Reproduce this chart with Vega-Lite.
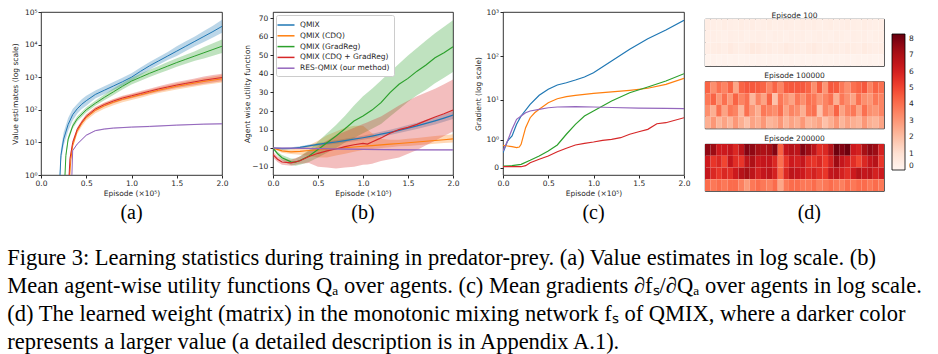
{
"$schema": "https://vega.github.io/schema/vega-lite/v6.json",
"background": "white",
"padding": {"left": 7, "top": 7, "right": 0, "bottom": 0},
"config": {
  "view": {"stroke": "black", "strokeWidth": 0.8},
  "axis": {"labelFont": "DejaVu Sans", "labelFontSize": 7.5, "titleFont": "DejaVu Sans", "titleFontSize": 7.5, "titleFontWeight": "normal", "labelColor": "#262626", "titleColor": "#262626", "tickColor": "#262626", "tickSize": 3, "grid": false, "domain": false, "labelOverlap": false, "labelFlush": false}
},
"title": {"text": ["Figure 3: Learning statistics during training in predator-prey. (a) Value estimates in log scale. (b)", "Mean agent-wise utility functions Qₐ over agents. (c) Mean gradients ∂fₛ/∂Qₐ over agents in log scale.", "(d) The learned weight (matrix) in the monotonic mixing network fₛ of QMIX, where a darker color", "represents a larger value (a detailed description is in Appendix A.1)."], "orient": "bottom", "anchor": "start", "frame": "bounds", "font": "Liberation Serif", "fontSize": 22.5, "fontWeight": "normal", "lineHeight": 28, "offset": 24, "dx": -4, "color": "black"},
"datasets": {
  "a": [
    {"s":"QMIX","x":0.205,"y":0.5,"lo":0.3,"hi":0.8},{"s":"QMIX","x":0.22,"y":3.98,"lo":2.5,"hi":6.3},{"s":"QMIX","x":0.25,"y":12.6,"lo":8,"hi":20},{"s":"QMIX","x":0.3,"y":35.5,"lo":22.4,"hi":56},{"s":"QMIX","x":0.35,"y":70.8,"lo":47,"hi":106},{"s":"QMIX","x":0.4,"y":107,"lo":76,"hi":151},{"s":"QMIX","x":0.45,"y":148,"lo":105,"hi":209},{"s":"QMIX","x":0.5,"y":190,"lo":134,"hi":268},{"s":"QMIX","x":0.6,"y":295,"lo":224,"hi":389},{"s":"QMIX","x":0.7,"y":398,"lo":302,"hi":525},{"s":"QMIX","x":0.8,"y":537,"lo":407,"hi":708},{"s":"QMIX","x":0.9,"y":724,"lo":549,"hi":954},{"s":"QMIX","x":1.0,"y":1000,"lo":759,"hi":1318},{"s":"QMIX","x":1.1,"y":1514,"lo":1149,"hi":1995},{"s":"QMIX","x":1.2,"y":2239,"lo":1699,"hi":2951},{"s":"QMIX","x":1.3,"y":3162,"lo":2399,"hi":4168},{"s":"QMIX","x":1.4,"y":4467,"lo":3389,"hi":5888},{"s":"QMIX","x":1.5,"y":6310,"lo":4466,"hi":8916},{"s":"QMIX","x":1.6,"y":8913,"lo":6308,"hi":12594},{"s":"QMIX","x":1.7,"y":12589,"lo":8909,"hi":17788},{"s":"QMIX","x":1.8,"y":17783,"lo":12016,"hi":26319},{"s":"QMIX","x":1.9,"y":25119,"lo":16591,"hi":38030},{"s":"QMIX","x":2.0,"y":36308,"lo":22907,"hi":57548},
    {"s":"QMIX (CDQ)","x":0.31,"y":0.5,"lo":0.4,"hi":0.6},{"s":"QMIX (CDQ)","x":0.33,"y":3.0,"lo":2.5,"hi":3.7},{"s":"QMIX (CDQ)","x":0.35,"y":8,"lo":6.6,"hi":9.8},{"s":"QMIX (CDQ)","x":0.4,"y":22,"lo":18,"hi":27},{"s":"QMIX (CDQ)","x":0.45,"y":38,"lo":31,"hi":46},{"s":"QMIX (CDQ)","x":0.5,"y":57,"lo":47,"hi":70},{"s":"QMIX (CDQ)","x":0.6,"y":96,"lo":79,"hi":117},{"s":"QMIX (CDQ)","x":0.7,"y":132,"lo":108,"hi":161},{"s":"QMIX (CDQ)","x":0.8,"y":170,"lo":139,"hi":207},{"s":"QMIX (CDQ)","x":0.9,"y":209,"lo":171,"hi":255},{"s":"QMIX (CDQ)","x":1.0,"y":245,"lo":201,"hi":299},{"s":"QMIX (CDQ)","x":1.1,"y":288,"lo":236,"hi":351},{"s":"QMIX (CDQ)","x":1.2,"y":339,"lo":278,"hi":414},{"s":"QMIX (CDQ)","x":1.3,"y":398,"lo":326,"hi":486},{"s":"QMIX (CDQ)","x":1.4,"y":457,"lo":370,"hi":565},{"s":"QMIX (CDQ)","x":1.5,"y":525,"lo":420,"hi":656},{"s":"QMIX (CDQ)","x":1.6,"y":589,"lo":467,"hi":742},{"s":"QMIX (CDQ)","x":1.7,"y":661,"lo":521,"hi":839},{"s":"QMIX (CDQ)","x":1.8,"y":741,"lo":579,"hi":948},{"s":"QMIX (CDQ)","x":1.9,"y":813,"lo":630,"hi":1049},{"s":"QMIX (CDQ)","x":2.0,"y":891,"lo":685,"hi":1158},
    {"s":"QMIX (GradReg)","x":0.26,"y":0.5,"lo":0.4,"hi":0.6},{"s":"QMIX (GradReg)","x":0.275,"y":3.98,"lo":3.3,"hi":4.8},{"s":"QMIX (GradReg)","x":0.3,"y":12.6,"lo":10.5,"hi":15.1},{"s":"QMIX (GradReg)","x":0.35,"y":31.6,"lo":26.3,"hi":37.9},{"s":"QMIX (GradReg)","x":0.4,"y":52.5,"lo":43.8,"hi":63},{"s":"QMIX (GradReg)","x":0.5,"y":100,"lo":83,"hi":120},{"s":"QMIX (GradReg)","x":0.6,"y":158,"lo":132,"hi":190},{"s":"QMIX (GradReg)","x":0.7,"y":240,"lo":195,"hi":295},{"s":"QMIX (GradReg)","x":0.8,"y":355,"lo":282,"hi":447},{"s":"QMIX (GradReg)","x":0.9,"y":525,"lo":417,"hi":662},{"s":"QMIX (GradReg)","x":1.0,"y":759,"lo":602,"hi":956},{"s":"QMIX (GradReg)","x":1.1,"y":1000,"lo":781,"hi":1280},{"s":"QMIX (GradReg)","x":1.2,"y":1318,"lo":1019,"hi":1705},{"s":"QMIX (GradReg)","x":1.3,"y":1698,"lo":1297,"hi":2223},{"s":"QMIX (GradReg)","x":1.4,"y":2188,"lo":1641,"hi":2917},{"s":"QMIX (GradReg)","x":1.5,"y":2818,"lo":2075,"hi":3827},{"s":"QMIX (GradReg)","x":1.6,"y":3548,"lo":2568,"hi":4902},{"s":"QMIX (GradReg)","x":1.7,"y":4467,"lo":3172,"hi":6290},{"s":"QMIX (GradReg)","x":1.8,"y":5623,"lo":3750,"hi":8430},{"s":"QMIX (GradReg)","x":1.9,"y":7079,"lo":4550,"hi":11000},{"s":"QMIX (GradReg)","x":2.0,"y":8913,"lo":5570,"hi":14260},
    {"s":"QMIX (CDQ + GradReg)","x":0.305,"y":0.5,"lo":0.43,"hi":0.58},{"s":"QMIX (CDQ + GradReg)","x":0.32,"y":3.16,"lo":2.75,"hi":3.63},{"s":"QMIX (CDQ + GradReg)","x":0.35,"y":10,"lo":8.7,"hi":11.5},{"s":"QMIX (CDQ + GradReg)","x":0.4,"y":25.1,"lo":21.8,"hi":28.9},{"s":"QMIX (CDQ + GradReg)","x":0.45,"y":41.7,"lo":36.3,"hi":48},{"s":"QMIX (CDQ + GradReg)","x":0.5,"y":63.1,"lo":54.9,"hi":72.6},{"s":"QMIX (CDQ + GradReg)","x":0.6,"y":105,"lo":91,"hi":121},{"s":"QMIX (CDQ + GradReg)","x":0.7,"y":145,"lo":126,"hi":167},{"s":"QMIX (CDQ + GradReg)","x":0.8,"y":186,"lo":160,"hi":216},{"s":"QMIX (CDQ + GradReg)","x":0.9,"y":229,"lo":196,"hi":268},{"s":"QMIX (CDQ + GradReg)","x":1.0,"y":269,"lo":228,"hi":317},{"s":"QMIX (CDQ + GradReg)","x":1.1,"y":316,"lo":266,"hi":376},{"s":"QMIX (CDQ + GradReg)","x":1.2,"y":372,"lo":310,"hi":446},{"s":"QMIX (CDQ + GradReg)","x":1.3,"y":437,"lo":361,"hi":529},{"s":"QMIX (CDQ + GradReg)","x":1.4,"y":501,"lo":409,"hi":614},{"s":"QMIX (CDQ + GradReg)","x":1.5,"y":575,"lo":464,"hi":713},{"s":"QMIX (CDQ + GradReg)","x":1.6,"y":646,"lo":514,"hi":811},{"s":"QMIX (CDQ + GradReg)","x":1.7,"y":724,"lo":570,"hi":919},{"s":"QMIX (CDQ + GradReg)","x":1.8,"y":813,"lo":633,"hi":1044},{"s":"QMIX (CDQ + GradReg)","x":1.9,"y":891,"lo":686,"hi":1158},{"s":"QMIX (CDQ + GradReg)","x":2.0,"y":977,"lo":745,"hi":1280},
    {"s":"RES-QMIX (our method)","x":0.338,"y":0.5,"lo":0.48,"hi":0.52},{"s":"RES-QMIX (our method)","x":0.35,"y":5.6,"lo":5.3,"hi":5.9},{"s":"RES-QMIX (our method)","x":0.4,"y":8.9,"lo":8.5,"hi":9.3},{"s":"RES-QMIX (our method)","x":0.5,"y":16.6,"lo":15.8,"hi":17.4},{"s":"RES-QMIX (our method)","x":0.6,"y":22.9,"lo":21.8,"hi":24},{"s":"RES-QMIX (our method)","x":0.7,"y":25.7,"lo":24.5,"hi":27},{"s":"RES-QMIX (our method)","x":0.8,"y":27.5,"lo":26.2,"hi":28.9},{"s":"RES-QMIX (our method)","x":1.0,"y":29.5,"lo":28.1,"hi":31},{"s":"RES-QMIX (our method)","x":1.2,"y":30.9,"lo":29.4,"hi":32.4},{"s":"RES-QMIX (our method)","x":1.5,"y":33.9,"lo":32.3,"hi":35.6},{"s":"RES-QMIX (our method)","x":1.8,"y":36.3,"lo":34.6,"hi":38.1},{"s":"RES-QMIX (our method)","x":2.0,"y":37.2,"lo":35.4,"hi":39.1}
  ],
  "b": [
    {"s":"QMIX","x":0,"y":0,"lo":-0.3,"hi":0.3},{"s":"QMIX","x":0.1,"y":-0.3,"lo":-0.8,"hi":0.2},{"s":"QMIX","x":0.2,"y":-0.2,"lo":-0.8,"hi":0.4},{"s":"QMIX","x":0.3,"y":0.4,"lo":-0.2,"hi":1.0},{"s":"QMIX","x":0.4,"y":1.2,"lo":0.5,"hi":1.9},{"s":"QMIX","x":0.5,"y":2.0,"lo":1.2,"hi":2.8},{"s":"QMIX","x":0.6,"y":2.7,"lo":1.8,"hi":3.6},{"s":"QMIX","x":0.7,"y":3.3,"lo":2.3,"hi":4.3},{"s":"QMIX","x":0.8,"y":4.0,"lo":3.0,"hi":5.0},{"s":"QMIX","x":0.9,"y":4.8,"lo":3.7,"hi":5.9},{"s":"QMIX","x":1.0,"y":5.6,"lo":4.5,"hi":6.7},{"s":"QMIX","x":1.1,"y":6.5,"lo":5.3,"hi":7.7},{"s":"QMIX","x":1.2,"y":7.5,"lo":6.2,"hi":8.8},{"s":"QMIX","x":1.3,"y":8.5,"lo":7.1,"hi":9.9},{"s":"QMIX","x":1.4,"y":9.6,"lo":8.1,"hi":11.1},{"s":"QMIX","x":1.5,"y":10.8,"lo":9.2,"hi":12.4},{"s":"QMIX","x":1.6,"y":12.0,"lo":10.3,"hi":13.7},{"s":"QMIX","x":1.7,"y":13.3,"lo":11.5,"hi":15.1},{"s":"QMIX","x":1.8,"y":14.7,"lo":12.8,"hi":16.6},{"s":"QMIX","x":1.9,"y":16.2,"lo":14.2,"hi":18.2},{"s":"QMIX","x":2.0,"y":17.8,"lo":15.7,"hi":19.9},
    {"s":"QMIX (CDQ)","x":0,"y":0,"lo":-0.3,"hi":0.3},{"s":"QMIX (CDQ)","x":0.1,"y":-1.5,"lo":-2.5,"hi":-0.5},{"s":"QMIX (CDQ)","x":0.2,"y":-2.0,"lo":-3.2,"hi":-0.8},{"s":"QMIX (CDQ)","x":0.3,"y":-1.8,"lo":-3.6,"hi":0},{"s":"QMIX (CDQ)","x":0.4,"y":-1.3,"lo":-4.2,"hi":1.5},{"s":"QMIX (CDQ)","x":0.5,"y":-0.9,"lo":-5,"hi":4},{"s":"QMIX (CDQ)","x":0.6,"y":-0.5,"lo":-5,"hi":7},{"s":"QMIX (CDQ)","x":0.7,"y":-0.2,"lo":-4,"hi":9},{"s":"QMIX (CDQ)","x":0.8,"y":0.2,"lo":-3,"hi":11},{"s":"QMIX (CDQ)","x":0.9,"y":0.6,"lo":-2,"hi":12},{"s":"QMIX (CDQ)","x":1.0,"y":1.0,"lo":-1,"hi":12},{"s":"QMIX (CDQ)","x":1.1,"y":1.3,"lo":-0.5,"hi":8},{"s":"QMIX (CDQ)","x":1.2,"y":1.7,"lo":0,"hi":5},{"s":"QMIX (CDQ)","x":1.3,"y":2.1,"lo":0.5,"hi":4.5},{"s":"QMIX (CDQ)","x":1.4,"y":2.5,"lo":1,"hi":4.5},{"s":"QMIX (CDQ)","x":1.5,"y":2.9,"lo":1.2,"hi":5},{"s":"QMIX (CDQ)","x":1.6,"y":3.3,"lo":1.5,"hi":5.5},{"s":"QMIX (CDQ)","x":1.7,"y":3.7,"lo":1.9,"hi":6},{"s":"QMIX (CDQ)","x":1.8,"y":4.1,"lo":2.3,"hi":6.5},{"s":"QMIX (CDQ)","x":1.9,"y":4.5,"lo":2.7,"hi":7},{"s":"QMIX (CDQ)","x":2.0,"y":5.0,"lo":3.0,"hi":7.5},
    {"s":"QMIX (GradReg)","x":0,"y":0,"lo":-0.3,"hi":0.3},{"s":"QMIX (GradReg)","x":0.05,"y":-3,"lo":-4,"hi":-2},{"s":"QMIX (GradReg)","x":0.1,"y":-5.2,"lo":-6.7,"hi":-3.7},{"s":"QMIX (GradReg)","x":0.2,"y":-7.4,"lo":-9.2,"hi":-5.6},{"s":"QMIX (GradReg)","x":0.25,"y":-7.6,"lo":-9.5,"hi":-5.8},{"s":"QMIX (GradReg)","x":0.3,"y":-6.7,"lo":-9,"hi":-4.4},{"s":"QMIX (GradReg)","x":0.4,"y":-4.3,"lo":-7.5,"hi":-1},{"s":"QMIX (GradReg)","x":0.5,"y":-0.7,"lo":-5,"hi":3.5},{"s":"QMIX (GradReg)","x":0.6,"y":2.9,"lo":-2.5,"hi":8},{"s":"QMIX (GradReg)","x":0.7,"y":6.5,"lo":0,"hi":12.5},{"s":"QMIX (GradReg)","x":0.8,"y":10.4,"lo":3,"hi":17.5},{"s":"QMIX (GradReg)","x":0.9,"y":14.6,"lo":5.5,"hi":23},{"s":"QMIX (GradReg)","x":1.0,"y":17.3,"lo":8,"hi":28},{"s":"QMIX (GradReg)","x":1.1,"y":20.5,"lo":10.5,"hi":32},{"s":"QMIX (GradReg)","x":1.2,"y":24.5,"lo":13,"hi":36.5},{"s":"QMIX (GradReg)","x":1.3,"y":29.9,"lo":17,"hi":41},{"s":"QMIX (GradReg)","x":1.4,"y":34.4,"lo":21,"hi":45.5},{"s":"QMIX (GradReg)","x":1.5,"y":37.6,"lo":25,"hi":50},{"s":"QMIX (GradReg)","x":1.6,"y":41.5,"lo":28.5,"hi":54},{"s":"QMIX (GradReg)","x":1.7,"y":44.8,"lo":31.5,"hi":58},{"s":"QMIX (GradReg)","x":1.8,"y":48.7,"lo":35,"hi":62},{"s":"QMIX (GradReg)","x":1.9,"y":51.4,"lo":38,"hi":65.5},{"s":"QMIX (GradReg)","x":2.0,"y":54.7,"lo":41,"hi":69},
    {"s":"QMIX (CDQ + GradReg)","x":0,"y":-3.5,"lo":-5,"hi":-2},{"s":"QMIX (CDQ + GradReg)","x":0.05,"y":-6,"lo":-7.5,"hi":-4.5},{"s":"QMIX (CDQ + GradReg)","x":0.1,"y":-7.5,"lo":-9,"hi":-6},{"s":"QMIX (CDQ + GradReg)","x":0.2,"y":-8,"lo":-9.5,"hi":-6.3},{"s":"QMIX (CDQ + GradReg)","x":0.3,"y":-6.8,"lo":-8.5,"hi":-4.5},{"s":"QMIX (CDQ + GradReg)","x":0.4,"y":-4.5,"lo":-8,"hi":-1.5},{"s":"QMIX (CDQ + GradReg)","x":0.5,"y":-2.8,"lo":-10,"hi":1},{"s":"QMIX (CDQ + GradReg)","x":0.6,"y":-1.5,"lo":-10.5,"hi":4},{"s":"QMIX (CDQ + GradReg)","x":0.7,"y":-0.5,"lo":-11,"hi":7},{"s":"QMIX (CDQ + GradReg)","x":0.8,"y":0.8,"lo":-10.5,"hi":9},{"s":"QMIX (CDQ + GradReg)","x":0.9,"y":1.8,"lo":-10,"hi":11},{"s":"QMIX (CDQ + GradReg)","x":1.0,"y":2.5,"lo":-9,"hi":13},{"s":"QMIX (CDQ + GradReg)","x":1.05,"y":2.2,"lo":-8.8,"hi":14},{"s":"QMIX (CDQ + GradReg)","x":1.1,"y":3.3,"lo":-8.5,"hi":15},{"s":"QMIX (CDQ + GradReg)","x":1.2,"y":5.5,"lo":-7,"hi":17},{"s":"QMIX (CDQ + GradReg)","x":1.3,"y":8.0,"lo":-6,"hi":20},{"s":"QMIX (CDQ + GradReg)","x":1.4,"y":10.0,"lo":-5,"hi":23},{"s":"QMIX (CDQ + GradReg)","x":1.5,"y":11.2,"lo":-3,"hi":25.5},{"s":"QMIX (CDQ + GradReg)","x":1.6,"y":12.8,"lo":-1,"hi":28},{"s":"QMIX (CDQ + GradReg)","x":1.7,"y":14.8,"lo":1.5,"hi":30},{"s":"QMIX (CDQ + GradReg)","x":1.8,"y":16.8,"lo":4,"hi":32},{"s":"QMIX (CDQ + GradReg)","x":1.9,"y":18.5,"lo":6.5,"hi":34.5},{"s":"QMIX (CDQ + GradReg)","x":2.0,"y":20.5,"lo":9,"hi":37},
    {"s":"RES-QMIX (our method)","x":0,"y":0,"lo":-0.3,"hi":0.3},{"s":"RES-QMIX (our method)","x":0.2,"y":0,"lo":-0.3,"hi":0.3},{"s":"RES-QMIX (our method)","x":0.5,"y":-0.3,"lo":-0.6,"hi":0},{"s":"RES-QMIX (our method)","x":1.0,"y":-0.7,"lo":-1.0,"hi":-0.4},{"s":"RES-QMIX (our method)","x":1.5,"y":-0.9,"lo":-1.2,"hi":-0.6},{"s":"RES-QMIX (our method)","x":2.0,"y":-1.0,"lo":-1.3,"hi":-0.7}
  ],
  "c": [
    {"s":"QMIX","x":0,"y":0.354},{"s":"QMIX","x":0.05,"y":0.903},{"s":"QMIX","x":0.1,"y":1.26},{"s":"QMIX","x":0.15,"y":2.57},{"s":"QMIX","x":0.2,"y":4.13},{"s":"QMIX","x":0.3,"y":7.84},{"s":"QMIX","x":0.4,"y":12.7},{"s":"QMIX","x":0.5,"y":17.5},{"s":"QMIX","x":0.6,"y":22.0},{"s":"QMIX","x":0.7,"y":24.8},{"s":"QMIX","x":0.8,"y":28.6},{"s":"QMIX","x":0.9,"y":33.5},{"s":"QMIX","x":1.0,"y":42.0},{"s":"QMIX","x":1.2,"y":77.6},{"s":"QMIX","x":1.4,"y":143},{"s":"QMIX","x":1.6,"y":248},{"s":"QMIX","x":1.8,"y":391},{"s":"QMIX","x":2.0,"y":648},
    {"s":"QMIX (CDQ)","x":0,"y":0.662},{"s":"QMIX (CDQ)","x":0.05,"y":0.627},{"s":"QMIX (CDQ)","x":0.1,"y":0.594},{"s":"QMIX (CDQ)","x":0.15,"y":0.549},{"s":"QMIX (CDQ)","x":0.18,"y":0.58},{"s":"QMIX (CDQ)","x":0.2,"y":0.713},{"s":"QMIX (CDQ)","x":0.22,"y":1.13},{"s":"QMIX (CDQ)","x":0.25,"y":2.11},{"s":"QMIX (CDQ)","x":0.3,"y":3.75},{"s":"QMIX (CDQ)","x":0.35,"y":4.95},{"s":"QMIX (CDQ)","x":0.4,"y":5.97},{"s":"QMIX (CDQ)","x":0.5,"y":8.56},{"s":"QMIX (CDQ)","x":0.6,"y":10.6},{"s":"QMIX (CDQ)","x":0.7,"y":11.8},{"s":"QMIX (CDQ)","x":0.8,"y":12.7},{"s":"QMIX (CDQ)","x":0.9,"y":13.4},{"s":"QMIX (CDQ)","x":1.0,"y":14.1},{"s":"QMIX (CDQ)","x":1.2,"y":15.2},{"s":"QMIX (CDQ)","x":1.4,"y":16.6},{"s":"QMIX (CDQ)","x":1.6,"y":18.5},{"s":"QMIX (CDQ)","x":1.8,"y":22.8},{"s":"QMIX (CDQ)","x":2.0,"y":31.3},
    {"s":"QMIX (GradReg)","x":0,"y":0.027},{"s":"QMIX (GradReg)","x":0.1,"y":0.032},{"s":"QMIX (GradReg)","x":0.2,"y":0.057},{"s":"QMIX (GradReg)","x":0.3,"y":0.14},{"s":"QMIX (GradReg)","x":0.4,"y":0.25},{"s":"QMIX (GradReg)","x":0.5,"y":0.415},{"s":"QMIX (GradReg)","x":0.6,"y":0.677},{"s":"QMIX (GradReg)","x":0.7,"y":1.41},{"s":"QMIX (GradReg)","x":0.8,"y":2.57},{"s":"QMIX (GradReg)","x":0.9,"y":4.13},{"s":"QMIX (GradReg)","x":1.0,"y":5.44},{"s":"QMIX (GradReg)","x":1.2,"y":9.37},{"s":"QMIX (GradReg)","x":1.4,"y":14.6},{"s":"QMIX (GradReg)","x":1.6,"y":19.8},{"s":"QMIX (GradReg)","x":1.8,"y":27.1},{"s":"QMIX (GradReg)","x":2.0,"y":39.8},
    {"s":"QMIX (CDQ + GradReg)","x":0,"y":0.015},{"s":"QMIX (CDQ + GradReg)","x":0.2,"y":0.015},{"s":"QMIX (CDQ + GradReg)","x":0.25,"y":0.032},{"s":"QMIX (CDQ + GradReg)","x":0.3,"y":0.088},{"s":"QMIX (CDQ + GradReg)","x":0.4,"y":0.164},{"s":"QMIX (CDQ + GradReg)","x":0.5,"y":0.25},{"s":"QMIX (CDQ + GradReg)","x":0.6,"y":0.389},{"s":"QMIX (CDQ + GradReg)","x":0.7,"y":0.522},{"s":"QMIX (CDQ + GradReg)","x":0.8,"y":0.677},{"s":"QMIX (CDQ + GradReg)","x":0.9,"y":0.767},{"s":"QMIX (CDQ + GradReg)","x":1.0,"y":0.842},{"s":"QMIX (CDQ + GradReg)","x":1.1,"y":0.947},{"s":"QMIX (CDQ + GradReg)","x":1.2,"y":1.014},{"s":"QMIX (CDQ + GradReg)","x":1.3,"y":1.13},{"s":"QMIX (CDQ + GradReg)","x":1.4,"y":1.41},{"s":"QMIX (CDQ + GradReg)","x":1.5,"y":1.65},{"s":"QMIX (CDQ + GradReg)","x":1.6,"y":1.91},{"s":"QMIX (CDQ + GradReg)","x":1.7,"y":2.66},{"s":"QMIX (CDQ + GradReg)","x":1.8,"y":2.82},{"s":"QMIX (CDQ + GradReg)","x":2.0,"y":3.75},
    {"s":"RES-QMIX (our method)","x":0,"y":0.415},{"s":"RES-QMIX (our method)","x":0.05,"y":0.903},{"s":"RES-QMIX (our method)","x":0.1,"y":1.91},{"s":"RES-QMIX (our method)","x":0.15,"y":3.43},{"s":"RES-QMIX (our method)","x":0.2,"y":4.13},{"s":"RES-QMIX (our method)","x":0.25,"y":4.95},{"s":"RES-QMIX (our method)","x":0.3,"y":5.44},{"s":"RES-QMIX (our method)","x":0.4,"y":5.97},{"s":"RES-QMIX (our method)","x":0.5,"y":6.5},{"s":"RES-QMIX (our method)","x":0.6,"y":6.78},{"s":"RES-QMIX (our method)","x":0.8,"y":6.9},{"s":"RES-QMIX (our method)","x":1.0,"y":6.78},{"s":"RES-QMIX (our method)","x":1.2,"y":6.6},{"s":"RES-QMIX (our method)","x":1.5,"y":6.4},{"s":"RES-QMIX (our method)","x":1.8,"y":6.3},{"s":"RES-QMIX (our method)","x":2.0,"y":6.17}
  ],
  "d": [
    {"e":"Episode 100","r":1,"c":[1,2,3,4,5,6,7,8,9,10,11,12,13,14,15,16,17,18,19,20,21,22,23,24,25,26,27,28,29,30,31,32],"v":[0.4,0.35,0.3,0.4,0.35,0.3,0.4,0.35,0.4,0.3,0.35,0.4,0.3,0.35,0.4,0.35,0.3,0.4,0.35,0.4,0.3,0.35,0.4,0.3,0.35,0.4,0.35,0.3,0.4,0.35,0.3,0.35]},
    {"e":"Episode 100","r":2,"c":[1,2,3,4,5,6,7,8,9,10,11,12,13,14,15,16,17,18,19,20,21,22,23,24,25,26,27,28,29,30,31,32],"v":[0.3,0.35,0.3,0.25,0.35,0.3,0.35,0.25,0.3,0.35,0.3,0.25,0.35,0.3,0.25,0.35,0.3,0.35,0.25,0.3,0.35,0.3,0.25,0.35,0.3,0.25,0.35,0.3,0.35,0.25,0.3,0.35]},
    {"e":"Episode 100","r":3,"c":[1,2,3,4,5,6,7,8,9,10,11,12,13,14,15,16,17,18,19,20,21,22,23,24,25,26,27,28,29,30,31,32],"v":[0.35,0.4,0.45,0.35,0.55,0.4,0.35,0.45,0.6,0.55,0.4,0.45,0.35,0.4,0.55,0.45,0.4,0.35,0.45,0.55,0.4,0.35,0.45,0.4,0.35,0.45,0.4,0.35,0.5,0.4,0.35,0.4]},
    {"e":"Episode 100","r":4,"c":[1,2,3,4,5,6,7,8,9,10,11,12,13,14,15,16,17,18,19,20,21,22,23,24,25,26,27,28,29,30,31,32],"v":[0.1,0.15,0.1,0.15,0.1,0.15,0.1,0.15,0.1,0.15,0.1,0.15,0.1,0.15,0.1,0.15,0.1,0.15,0.1,0.15,0.1,0.15,0.1,0.15,0.1,0.15,0.1,0.15,0.1,0.15,0.1,0.15]},
    {"e":"Episode 100000","r":1,"c":[1,2,3,4,5,6,7,8,9,10,11,12,13,14,15,16,17,18,19,20,21,22,23,24,25,26,27,28,29,30,31,32],"v":[4.3,3.2,4.0,3.5,4.3,2.6,4.3,4.6,4.6,4.5,4.3,3.5,4.3,3.5,4.5,4.6,4.6,4.6,4.3,3.2,4.5,3.0,4.6,4.5,3.8,3.2,4.0,4.3,4.6,3.5,4.3,4.0]},
    {"e":"Episode 100000","r":2,"c":[1,2,3,4,5,6,7,8,9,10,11,12,13,14,15,16,17,18,19,20,21,22,23,24,25,26,27,28,29,30,31,32],"v":[3.8,4.3,3.0,4.0,3.0,4.3,3.5,4.0,2.2,3.5,2.7,4.3,1.9,3.8,3.2,2.7,3.8,3.2,4.0,3.8,3.0,3.5,4.0,2.4,3.8,3.2,2.7,4.0,3.2,3.0,3.8,3.5]},
    {"e":"Episode 100000","r":3,"c":[1,2,3,4,5,6,7,8,9,10,11,12,13,14,15,16,17,18,19,20,21,22,23,24,25,26,27,28,29,30,31,32],"v":[3.2,2.4,4.0,2.7,3.8,3.5,2.2,4.0,3.0,2.4,3.8,3.5,3.2,4.0,2.7,3.5,3.2,2.4,3.8,4.0,1.9,3.5,3.0,4.3,2.7,3.5,3.8,2.7,4.0,3.2,3.0,3.5]},
    {"e":"Episode 100000","r":4,"c":[1,2,3,4,5,6,7,8,9,10,11,12,13,14,15,16,17,18,19,20,21,22,23,24,25,26,27,28,29,30,31,32],"v":[2.4,3.0,2.2,2.7,2.2,3.0,2.4,1.9,2.7,2.4,3.0,2.2,2.4,3.0,2.2,2.7,2.4,3.0,2.2,2.4,2.7,1.9,2.4,3.0,2.2,2.7,2.4,2.2,3.0,2.4,2.2,2.7]},
    {"e":"Episode 200000","r":1,"c":[1,2,3,4,5,6,7,8,9,10,11,12,13,14,15,16,17,18,19,20,21,22,23,24,25,26,27,28,29,30,31,32],"v":[7.6,7.4,6.2,6.2,6.4,5.8,6.6,7.8,7.6,7.2,7.0,7.2,7.8,4.4,6.4,6.8,6.6,7.8,7.4,6.6,5.6,5.8,6.8,8.2,7.8,8.2,6.2,6.0,7.2,7.6,7.4,6.0]},
    {"e":"Episode 200000","r":2,"c":[1,2,3,4,5,6,7,8,9,10,11,12,13,14,15,16,17,18,19,20,21,22,23,24,25,26,27,28,29,30,31,32],"v":[6.2,5.4,5.8,5.0,6.4,5.6,5.4,6.6,7.0,6.2,6.4,6.4,5.8,4.0,5.4,6.2,6.0,6.4,5.6,5.4,5.8,5.2,6.0,7.4,6.4,6.0,5.6,5.0,5.8,6.4,6.8,5.4]},
    {"e":"Episode 200000","r":3,"c":[1,2,3,4,5,6,7,8,9,10,11,12,13,14,15,16,17,18,19,20,21,22,23,24,25,26,27,28,29,30,31,32],"v":[6.4,5.8,5.4,5.8,5.6,6.2,6.8,7.2,6.6,6.0,6.4,6.6,6.0,4.2,5.8,6.6,6.4,6.2,5.8,6.0,5.6,5.4,6.4,6.6,6.0,5.6,6.2,6.8,6.4,6.6,6.0,6.2]},
    {"e":"Episode 200000","r":4,"c":[1,2,3,4,5,6,7,8,9,10,11,12,13,14,15,16,17,18,19,20,21,22,23,24,25,26,27,28,29,30,31,32],"v":[4.1,3.8,4.1,3.8,4.1,4.1,3.6,2.9,3.8,4.1,3.8,3.6,4.1,2.6,3.8,4.1,4.1,3.8,3.8,4.1,3.6,3.8,4.1,3.8,3.6,4.1,3.8,4.1,4.1,3.8,4.1,3.8]}
  ]
},
"columns": 4,
"align": "none",
"spacing": 13,
"resolve": {"scale": {"color": "independent"}, "legend": {"color": "independent"}},
"concat": [
  {
    "width": 181, "height": 163,
    "title": {"text": "(a)", "orient": "bottom", "font": "Liberation Serif", "fontSize": 20, "fontWeight": "normal", "offset": 6, "color": "black"},
    "data": {"name": "a"},
    "encoding": {
      "x": {"field": "x", "type": "quantitative", "scale": {"domain": [0, 2], "nice": false}, "axis": {"values": [0, 0.5, 1, 1.5, 2], "format": ".1f", "title": "Episode (×10⁵)", "titlePadding": 3, "labelPadding": 1}},
      "color": {"field": "s", "type": "nominal", "scale": {"domain": ["QMIX", "QMIX (CDQ)", "QMIX (GradReg)", "QMIX (CDQ + GradReg)", "RES-QMIX (our method)"], "range": ["#1f77b4", "#ff7f0e", "#2ca02c", "#d62728", "#9467bd"]}, "legend": null}
    },
    "layer": [
      {"mark": {"type": "area", "opacity": 0.3, "clip": true},
       "encoding": {"y": {"field": "lo", "type": "quantitative", "scale": {"type": "log", "domain": [1, 100000], "nice": false}, "axis": {"values": [1, 10, 100, 1000, 10000, 100000], "labelExpr": "datum.value < 5 ? '10⁰' : datum.value < 50 ? '10¹' : datum.value < 500 ? '10²' : datum.value < 5000 ? '10³' : datum.value < 50000 ? '10⁴' : '10⁵'", "title": "Value estimates (log scale)", "minExtent": 19, "maxExtent": 19, "titlePadding": 2.25, "labelPadding": 1}}, "y2": {"field": "hi"}}},
      {"mark": {"type": "line", "strokeWidth": 1, "clip": true},
       "encoding": {"y": {"field": "y", "type": "quantitative", "scale": {"type": "log", "domain": [1, 100000], "nice": false}, "axis": {"values": [1, 10, 100, 1000, 10000, 100000], "labelExpr": "datum.value < 5 ? '10⁰' : datum.value < 50 ? '10¹' : datum.value < 500 ? '10²' : datum.value < 5000 ? '10³' : datum.value < 50000 ? '10⁴' : '10⁵'", "title": "Value estimates (log scale)", "minExtent": 19, "maxExtent": 19, "titlePadding": 2.25, "labelPadding": 1}}}}
    ]
  },
  {
    "width": 180, "height": 163,
    "title": {"text": "(b)", "orient": "bottom", "font": "Liberation Serif", "fontSize": 20, "fontWeight": "normal", "offset": 6, "color": "black"},
    "data": {"name": "b"},
    "encoding": {
      "x": {"field": "x", "type": "quantitative", "scale": {"domain": [0, 2], "nice": false}, "axis": {"values": [0, 0.5, 1, 1.5, 2], "format": ".1f", "title": "Episode (×10⁵)", "titlePadding": 3, "labelPadding": 1}},
      "color": {"field": "s", "type": "nominal", "scale": {"domain": ["QMIX", "QMIX (CDQ)", "QMIX (GradReg)", "QMIX (CDQ + GradReg)", "RES-QMIX (our method)"], "range": ["#1f77b4", "#ff7f0e", "#2ca02c", "#d62728", "#9467bd"]},
        "legend": {"orient": "top-left", "offset": 3, "title": null, "padding": 4, "strokeColor": "#cccccc", "fillColor": "white", "cornerRadius": 2, "symbolType": "M-1.7,0L1.7,0", "symbolSize": 100, "symbolStrokeWidth": 1.5, "symbolOpacity": 1, "labelFontSize": 7.5, "labelFont": "DejaVu Sans", "labelColor": "#262626", "rowPadding": 0.8, "labelOffset": 8, "labelLimit": 300}}
    },
    "layer": [
      {"mark": {"type": "area", "opacity": 0.3, "clip": true},
       "encoding": {"y": {"field": "lo", "type": "quantitative", "scale": {"domain": [-14.5, 73.4], "nice": false, "zero": false}, "axis": {"values": [-10, 0, 10, 20, 30, 40, 50, 60, 70, 73.4], "labelExpr": "datum.value > 72 ? ' ' : datum.label", "tickOpacity": {"condition": {"test": "datum.value > 72", "value": 0}, "value": 1}, "title": "Agent wise utility function", "minExtent": 21, "maxExtent": 21, "titlePadding": 0.8, "labelPadding": 2.3}}, "y2": {"field": "hi"}}},
      {"mark": {"type": "line", "strokeWidth": 1.2, "clip": true},
       "encoding": {"y": {"field": "y", "type": "quantitative", "scale": {"domain": [-14.5, 73.4], "nice": false, "zero": false}, "axis": {"values": [-10, 0, 10, 20, 30, 40, 50, 60, 70, 73.4], "labelExpr": "datum.value > 72 ? ' ' : datum.label", "tickOpacity": {"condition": {"test": "datum.value > 72", "value": 0}, "value": 1}, "title": "Agent wise utility function", "minExtent": 21, "maxExtent": 21, "titlePadding": 0.8, "labelPadding": 2.3}}}}
    ]
  },
  {
    "width": 181, "height": 163,
    "title": {"text": "(c)", "orient": "bottom", "font": "Liberation Serif", "fontSize": 20, "fontWeight": "normal", "offset": 6, "color": "black"},
    "data": {"name": "c"},
    "mark": {"type": "line", "strokeWidth": 1.2, "clip": true},
    "encoding": {
      "x": {"field": "x", "type": "quantitative", "scale": {"domain": [0, 2], "nice": false}, "axis": {"values": [0, 0.5, 1, 1.5, 2], "format": ".1f", "title": "Episode (×10⁵)", "titlePadding": 3, "labelPadding": 1}},
      "y": {"field": "y", "type": "quantitative", "scale": {"type": "symlog", "constant": 0.3, "domain": [-0.14, 1000], "nice": false, "zero": false}, "axis": {"values": [0, 1, 10, 100, 1000], "labelExpr": "datum.value == 0 ? '0' : datum.value == 1 ? '10⁰' : datum.value == 10 ? '10¹' : datum.value == 100 ? '10²' : '10³'", "title": "Gradient (log scale)", "minExtent": 17, "maxExtent": 17, "titlePadding": 4, "labelPadding": 1.5}},
      "color": {"field": "s", "type": "nominal", "scale": {"domain": ["QMIX", "QMIX (CDQ)", "QMIX (GradReg)", "QMIX (CDQ + GradReg)", "RES-QMIX (our method)"], "range": ["#1f77b4", "#ff7f0e", "#2ca02c", "#d62728", "#9467bd"]}, "legend": null}
    }
  },
  {
    "title": {"text": "(d)", "orient": "bottom", "anchor": "middle", "font": "Liberation Serif", "fontSize": 20, "fontWeight": "normal", "offset": 12, "color": "black", "frame": "bounds"},
    "data": {"name": "d"},
    "transform": [{"flatten": ["c", "v"]}],
    "spacing": 4.5,
    "vconcat": [
      {
        "spacing": -2,
        "vconcat": [
          {"width": 179, "height": 0.01, "view": {"stroke": null}, "data": {"values": []}, "mark": "point"},
          {
            "title": {"text": "Episode 100", "font": "DejaVu Sans", "fontSize": 7.5, "fontWeight": "normal", "color": "#262626", "offset": 0},
            "width": 179, "height": 47,
            "transform": [{"filter": {"field": "e", "equal": "Episode 100"}}],
            "mark": "rect",
            "encoding": {
              "x": {"field": "c", "type": "ordinal", "axis": null},
              "y": {"field": "r", "type": "ordinal", "axis": null},
              "color": {"field": "v", "type": "quantitative", "scale": {"domain": [0, 1.0375, 2.075, 3.1125, 4.15, 5.1875, 6.225, 7.2625, 8.3], "range": ["#fff5f0", "#fee0d2", "#fcbba1", "#fc9272", "#fb6a4a", "#ef3b2c", "#cb181d", "#a50f15", "#67000d"]},
                "legend": {"orient": "none", "legendX": 187, "legendY": 22, "direction": "vertical", "gradientLength": 136, "gradientThickness": 13, "values": [0, 1, 2, 3, 4, 5, 6, 7, 8], "title": null, "labelFontSize": 7.5, "labelFont": "DejaVu Sans", "labelColor": "#262626", "labelOffset": 4, "gradientStrokeColor": "black", "gradientStrokeWidth": 0.8, "labelOverlap": false}}
            }
          }
        ]
      },
      {
        "title": {"text": "Episode 100000", "font": "DejaVu Sans", "fontSize": 7.5, "fontWeight": "normal", "color": "#262626", "offset": 2},
        "width": 179, "height": 47,
        "transform": [{"filter": {"field": "e", "equal": "Episode 100000"}}],
        "mark": "rect",
        "encoding": {
          "x": {"field": "c", "type": "ordinal", "axis": null},
          "y": {"field": "r", "type": "ordinal", "axis": null},
          "color": {"field": "v", "type": "quantitative", "scale": {"domain": [0, 1.0375, 2.075, 3.1125, 4.15, 5.1875, 6.225, 7.2625, 8.3], "range": ["#fff5f0", "#fee0d2", "#fcbba1", "#fc9272", "#fb6a4a", "#ef3b2c", "#cb181d", "#a50f15", "#67000d"]},
            "legend": {"orient": "none", "legendX": 187, "legendY": 22, "direction": "vertical", "gradientLength": 136, "gradientThickness": 13, "values": [0, 1, 2, 3, 4, 5, 6, 7, 8], "title": null, "labelFontSize": 7.5, "labelFont": "DejaVu Sans", "labelColor": "#262626", "labelOffset": 4, "gradientStrokeColor": "black", "gradientStrokeWidth": 0.8, "labelOverlap": false}}
        }
      },
      {
        "title": {"text": "Episode 200000", "font": "DejaVu Sans", "fontSize": 7.5, "fontWeight": "normal", "color": "#262626", "offset": 2},
        "width": 179, "height": 47,
        "transform": [{"filter": {"field": "e", "equal": "Episode 200000"}}],
        "mark": "rect",
        "encoding": {
          "x": {"field": "c", "type": "ordinal", "axis": null},
          "y": {"field": "r", "type": "ordinal", "axis": null},
          "color": {"field": "v", "type": "quantitative", "scale": {"domain": [0, 1.0375, 2.075, 3.1125, 4.15, 5.1875, 6.225, 7.2625, 8.3], "range": ["#fff5f0", "#fee0d2", "#fcbba1", "#fc9272", "#fb6a4a", "#ef3b2c", "#cb181d", "#a50f15", "#67000d"]},
            "legend": {"orient": "none", "legendX": 187, "legendY": 22, "direction": "vertical", "gradientLength": 136, "gradientThickness": 13, "values": [0, 1, 2, 3, 4, 5, 6, 7, 8], "title": null, "labelFontSize": 7.5, "labelFont": "DejaVu Sans", "labelColor": "#262626", "labelOffset": 4, "gradientStrokeColor": "black", "gradientStrokeWidth": 0.8, "labelOverlap": false}}
        }
      }
    ]
  }
]
}
